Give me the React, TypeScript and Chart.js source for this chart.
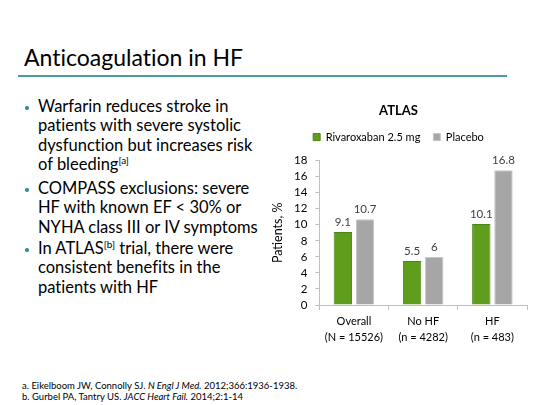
import React, { useEffect, useRef } from "react";
import { Chart, registerables } from "chart.js";

Chart.register(...registerables);

const categories: string[][] = [
  ["Overall", "(N = 15526)"],
  ["No HF", "(n = 4282)"],
  ["HF", "(n = 483)"],
];
const rivaroxaban: number[] = [9.1, 5.5, 10.1];
const placebo: number[] = [10.7, 6, 16.8];
const seriesNames: string[] = ["Rivaroxaban 2.5 mg", "Placebo"];
const yTicks: number[] = [0, 2, 4, 6, 8, 10, 12, 14, 16, 18];

const FONT = "Lato, 'Open Sans', sans-serif";

const valueLabels = {
  id: "valueLabels",
  afterDatasetsDraw(chart: any) {
    const ctx = chart.ctx;
    ctx.save();
    ctx.font = `11.5px ${FONT}`;
    ctx.fillStyle = "#404040";
    ctx.textAlign = "center";
    ctx.textBaseline = "bottom";
    chart.data.datasets.forEach((ds: any, i: number) => {
      const meta = chart.getDatasetMeta(i);
      meta.data.forEach((el: any, j: number) => {
        ctx.fillText(String(ds.data[j]), el.x, el.y - 4);
      });
    });
    ctx.restore();
  },
};

const legendGap = {
  id: "legendGap",
  beforeInit(chart: any) {
    const legend = chart.legend;
    if (!legend) return;
    const orig = legend.fit;
    legend.fit = function () {
      orig.call(this);
      this.height += 8;
    };
  },
};

function AtlasChart() {
  const ref = useRef<HTMLCanvasElement | null>(null);
  useEffect(() => {
    if (!ref.current) return;
    const chart = new Chart(ref.current, {
      type: "bar",
      data: {
        labels: categories,
        datasets: [
          {
            label: seriesNames[0],
            data: rivaroxaban,
            backgroundColor: "#5e9e1c",
            borderColor: "#4a8214",
            borderWidth: 1,
            categoryPercentage: 0.64,
            barPercentage: 0.83,
          },
          {
            label: seriesNames[1],
            data: placebo,
            backgroundColor: "#a6a6a6",
            borderColor: "#c4c4c4",
            borderWidth: 1,
            categoryPercentage: 0.64,
            barPercentage: 0.83,
          },
        ],
      },
      options: {
        animation: false,
        responsive: false,
        maintainAspectRatio: false,
        layout: { padding: { left: 5, right: 8, top: 6, bottom: 1 } },
        plugins: {
          title: {
            display: true,
            text: "ATLAS",
            color: "#000",
            font: { family: FONT, size: 13, weight: "bold" },
            padding: { top: 2, bottom: 0 },
          },
          legend: {
            display: true,
            position: "top",
            labels: {
              boxWidth: 7,
              boxHeight: 7,
              color: "#000",
              padding: 13,
              font: { family: FONT, size: 11 },
            },
          },
          tooltip: { enabled: false },
        },
        scales: {
          x: {
            grid: {
              display: true,
              drawOnChartArea: false,
              drawTicks: true,
              tickLength: 5,
              color: "#bfbfbf",
              offset: true,
            },
            border: { color: "#bfbfbf" },
            ticks: {
              color: "#000",
              font: { family: FONT, size: 11, lineHeight: 1.5 },
              padding: 3,
              maxRotation: 0,
            },
          },
          y: {
            min: 0,
            max: 18,
            afterBuildTicks: (axis: any) => {
              axis.ticks = yTicks.map((v) => ({ value: v }));
            },
            grid: {
              display: true,
              drawOnChartArea: false,
              drawTicks: true,
              tickLength: 4,
              color: "#bfbfbf",
            },
            border: { color: "#bfbfbf" },
            ticks: {
              color: "#000",
              font: { family: FONT, size: 11.5 },
              padding: 8,
              autoSkip: false,
            },
            title: {
              display: true,
              text: "Patients, %",
              color: "#000",
              font: { family: FONT, size: 12.5 },
              padding: { top: 0, bottom: 1 },
            },
          },
        },
      },
      plugins: [legendGap, valueLabels],
    });
    return () => chart.destroy();
  }, []);
  return <canvas ref={ref} width={270} height={255} style={{ width: 270, height: 255, display: "block" }} />;
}

const bulletStyle: React.CSSProperties = {
  position: "absolute",
  left: 38,
  fontFamily: FONT,
  fontSize: 16.5,
  lineHeight: "19.3px",
  color: "#000",
  whiteSpace: "nowrap",
  fontVariantLigatures: "none",
};

function Bullet({ top, children }: { top: number; children: React.ReactNode }) {
  return (
    <div style={{ ...bulletStyle, top }}>
      <span
        style={{
          position: "absolute",
          left: -13,
          top: 9,
          width: 4,
          height: 4,
          borderRadius: 2,
          background: "#1f8a8f",
        }}
      />
      {children}
    </div>
  );
}

const sup: React.CSSProperties = { fontSize: 10, verticalAlign: "6px", lineHeight: 0 };

export default function App() {
  return (
    <div
      style={{
        position: "fixed",
        left: 0,
        top: 0,
        width: 540,
        height: 405,
        background: "#fff",
        overflow: "hidden",
      }}
    >
      <div
        style={{
          position: "absolute",
          left: 24,
          top: 40,
          fontFamily: FONT,
          fontSize: 23,
          lineHeight: "34px",
          color: "#000",
          whiteSpace: "nowrap",
          fontVariantLigatures: "none",
        }}
      >
        Anticoagulation in HF
      </div>
      <div
        style={{
          position: "absolute",
          left: 18,
          top: 75,
          width: 489,
          height: 1.5,
          background: "#4a9aa8",
        }}
      />
      <Bullet top={97}>
        Warfarin reduces stroke in
        <br />
        patients with severe systolic
        <br />
        dysfunction but increases risk
        <br />
        of bleeding<sup style={sup}>[a]</sup>
      </Bullet>
      <Bullet top={179}>
        COMPASS exclusions: severe
        <br />
        HF with known EF &lt; 30% or
        <br />
        NYHA class III or IV symptoms
      </Bullet>
      <Bullet top={239}>
        In ATLAS<sup style={sup}>[b]</sup> trial, there were
        <br />
        consistent benefits in the
        <br />
        patients with HF
      </Bullet>
      <div style={{ position: "absolute", left: 265, top: 95 }}>
        <AtlasChart />
      </div>
      <div
        style={{
          position: "absolute",
          left: 22,
          top: 381,
          fontFamily: FONT,
          fontSize: 9.5,
          lineHeight: "10.5px",
          color: "#000",
          whiteSpace: "nowrap",
        }}
      >
        a. Eikelboom JW, Connolly SJ. <i>N Engl J Med.</i> 2012;366:1936-1938.
        <br />
        b. Gurbel PA, Tantry US. <i>JACC Heart Fail.</i> 2014;2:1-14
      </div>
    </div>
  );
}
